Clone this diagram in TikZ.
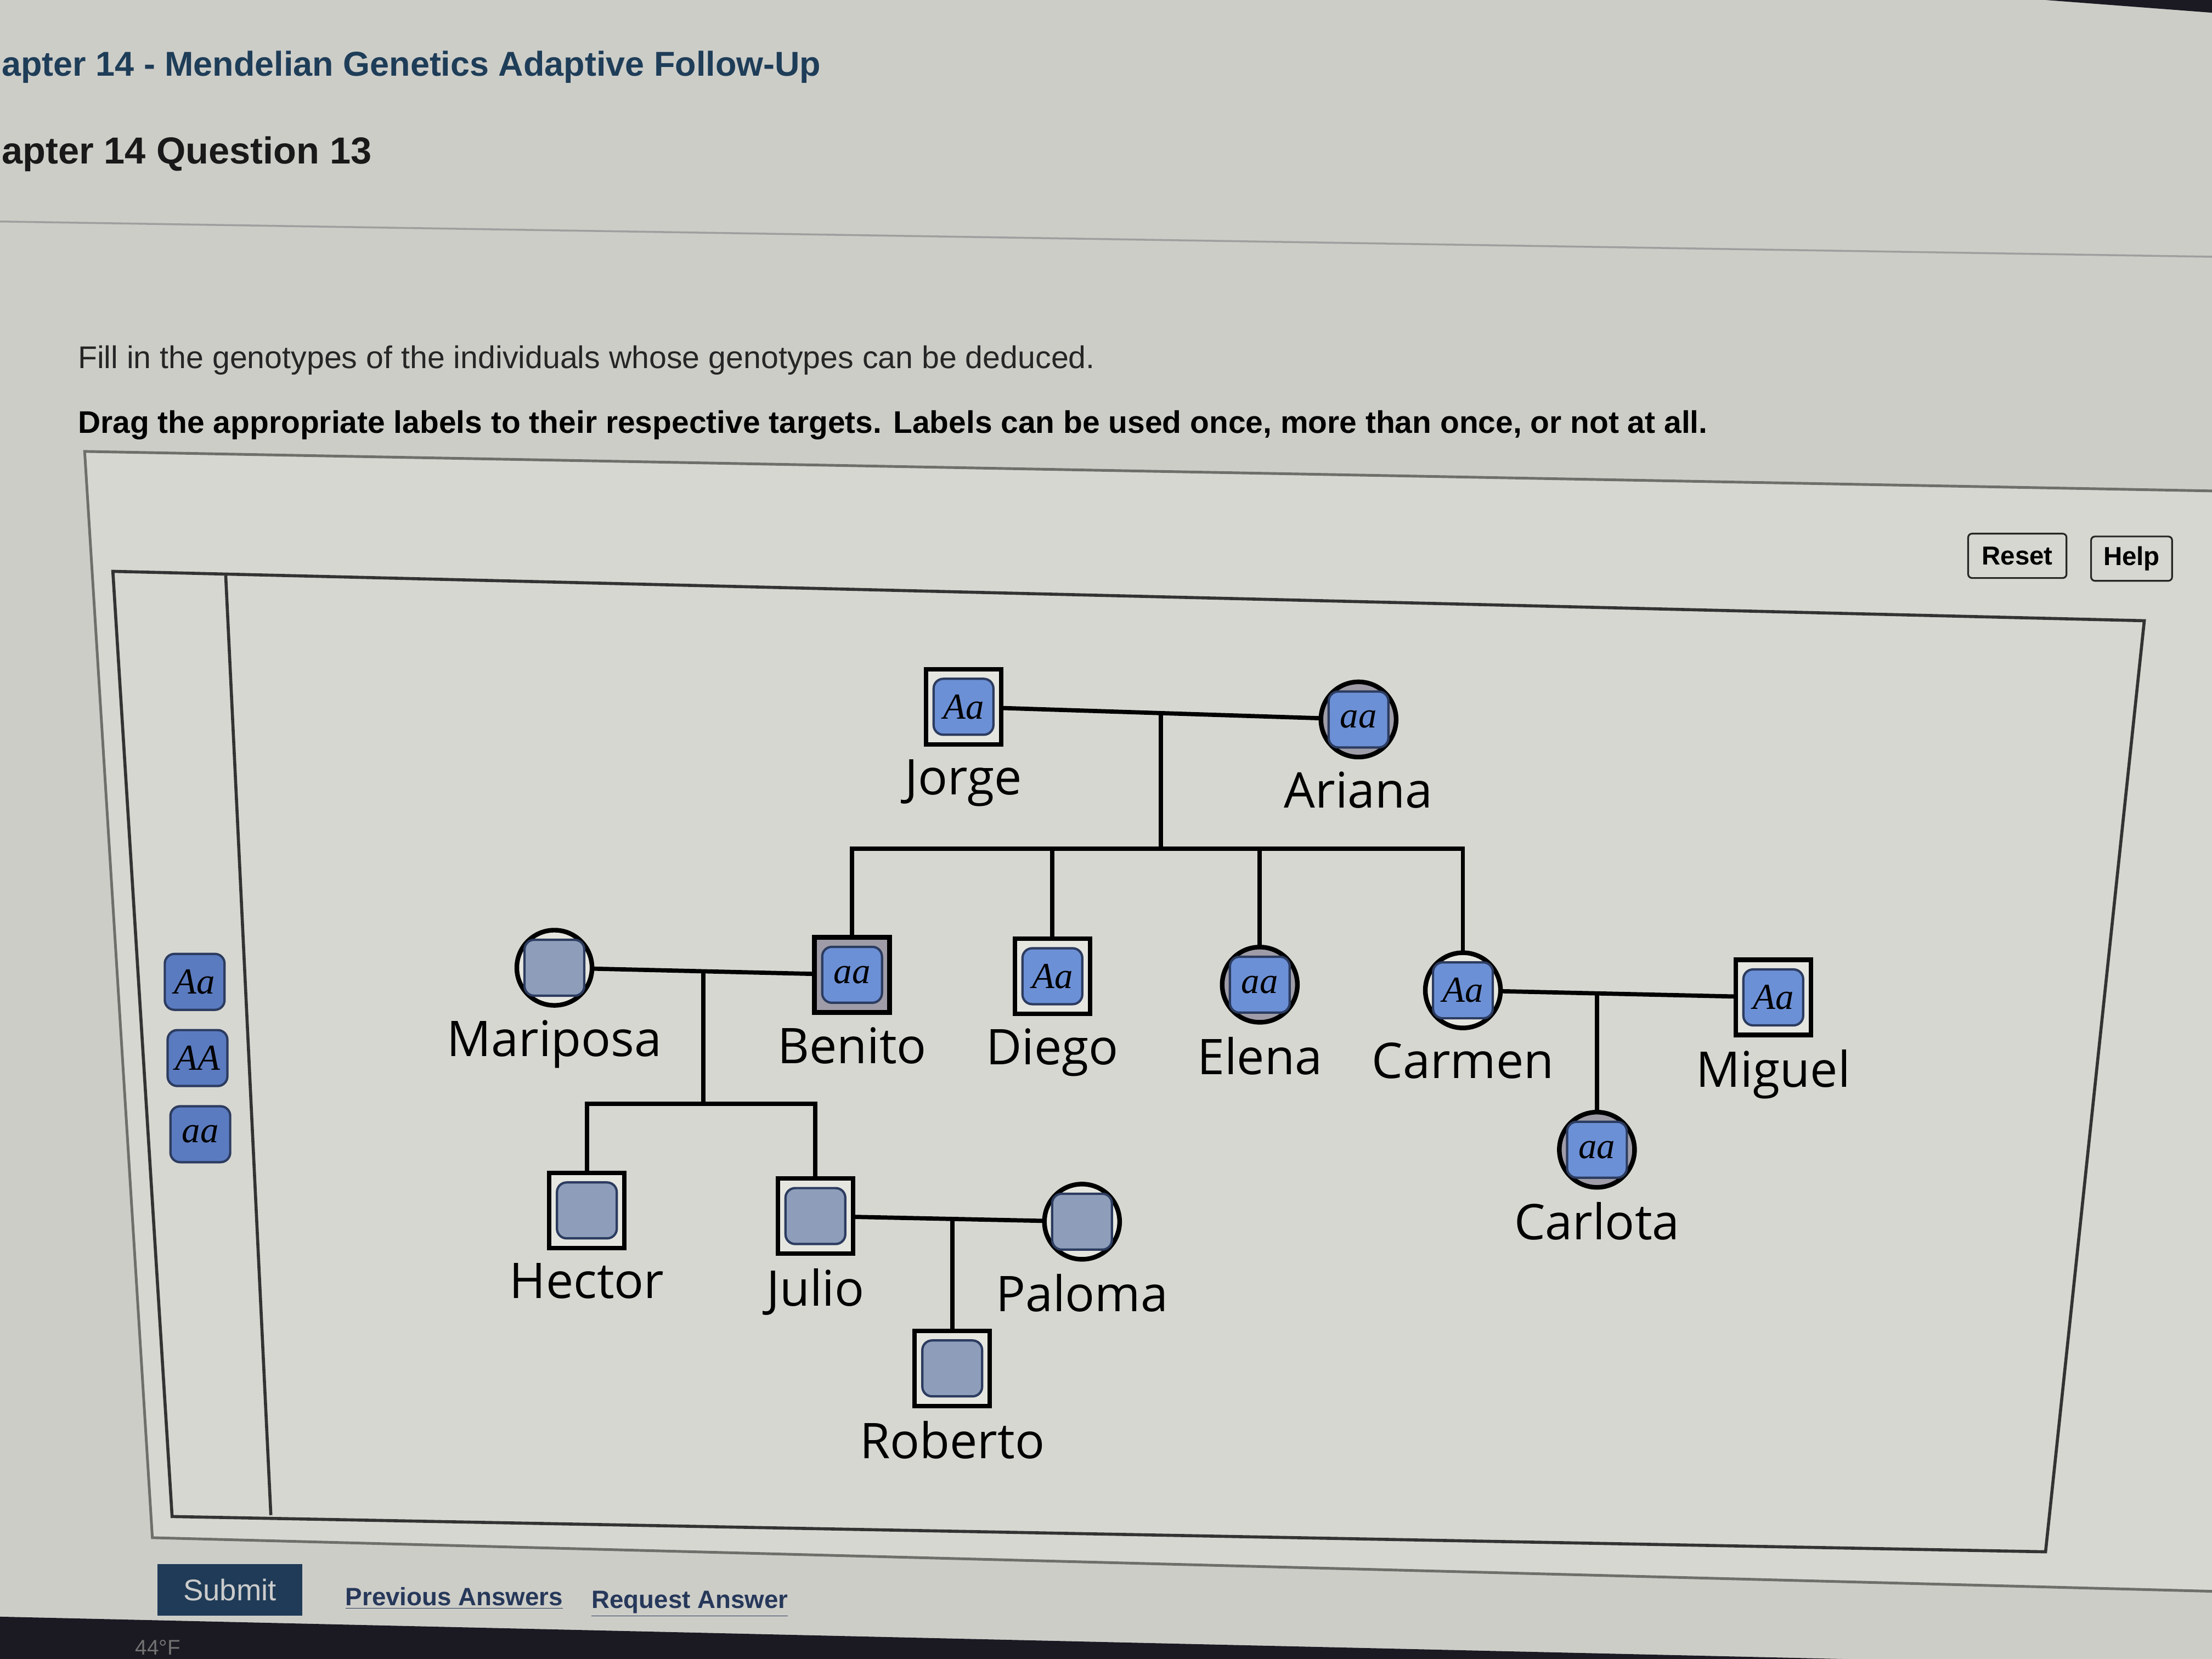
\documentclass[tikz,border=0pt]{standalone}
\usepackage{fontspec}
\setmainfont{Liberation Sans}
\newfontfamily\namefont{Open Sans}
\newfontfamily\genofont{Liberation Serif}
\usetikzlibrary{positioning, calc}
\definecolor{pagegray}{HTML}{CDCDC8}
\definecolor{panelgray}{HTML}{D7D7D1}
\definecolor{framegray}{HTML}{6E6E6A}
\definecolor{headblue}{HTML}{1E3D58}
\definecolor{tileblue}{HTML}{6C90D6}
\definecolor{tilegray}{HTML}{8E9DB9}
\definecolor{paltile}{HTML}{5B7BC0}
\definecolor{tileedge}{HTML}{2C3C60}
\definecolor{affected}{HTML}{9F9CA8}
\definecolor{healthy}{HTML}{E6E6E0}
\definecolor{submitblue}{HTML}{1F3B57}
\definecolor{linkblue}{HTML}{26385A}
\definecolor{taskbar}{HTML}{1B1A23}

\begin{document}
\begin{tikzpicture}[x=0.2571mm, y=-0.2571mm]
  \tikzset{male/.style={rectangle, draw=black, line width=2.4pt, fill=healthy,
                        minimum size=39pt, inner sep=0pt},
           female/.style={circle, draw=black, line width=2.4pt, fill=healthy,
                          minimum size=39pt, inner sep=0pt},
           sick/.style={fill=affected},
           gtile/.style={rectangle, rounded corners=5pt, draw=tileedge, line width=1.2pt,
                         fill=tileblue, minimum width=31pt, minimum height=29pt, inner sep=0pt,
                         font=\genofont\itshape\fontsize{19}{19}\selectfont},
           emptytile/.style={fill=tilegray},
           palette/.style={gtile, fill=paltile},
           pname/.style={font=\namefont\fontsize{25.5}{27}\selectfont},
           pline/.style={line width=2.2pt, line cap=rect},
           uibtn/.style={draw=black!85, rounded corners=2pt, line width=0.9pt, fill=panelgray,
                         minimum height=23pt, font=\bfseries\fontsize{13.5}{14}\selectfont},
           weblink/.style={text=linkblue, inner sep=1pt, font=\bfseries\fontsize{13}{14}\selectfont}}

  % page and panels
  \fill[pagegray] (0,0) rectangle (1568,1176);
  \useasboundingbox (0,0) rectangle (1568,1176);
  \fill[taskbar] (1450,0) -- (1568,0) -- (1568,9) -- cycle;
  \draw[gray!75, line width=1pt] (0,157) -- (1568,182);
  \fill[panelgray] (60,320) -- (1568,348) -- (1568,1128) -- (108,1090) -- cycle;
  \draw[framegray, line width=1.4pt] (1568,348) -- (60,320) -- (108,1090) -- (1568,1128);
  \draw[black!80, line width=1.6pt] (80,405) -- (1520,440) -- (1450,1100) -- (122,1075) -- cycle;
  \draw[black!80, line width=1.6pt] (160,408) -- (192,1074);
  \fill[taskbar] (0,1146) -- (1568,1182) -- (0,1182) -- cycle;

  % headings
  \node[anchor=base west, inner sep=0pt, text=headblue, font=\bfseries\fontsize{17.9}{18}\selectfont]
    (title) at (1,54) {apter 14 - Mendelian Genetics Adaptive Follow-Up};
  \node[anchor=base west, inner sep=0pt, text=black!90, font=\bfseries\fontsize{19.5}{20}\selectfont]
    (question) at (1,116) {apter 14 Question 13};
  \node[anchor=base west, inner sep=0pt, text=black!85, font=\fontsize{16.3}{17}\selectfont]
    (task) at (55,261) {Fill in the genotypes of the individuals whose genotypes can be deduced.};
  \node[anchor=base west, inner sep=0pt, font=\bfseries\fontsize{16.2}{17}\selectfont]
    (hint) at (55,307) {Drag the appropriate labels to their respective targets. Labels can be used once, more than once, or not at all.};

  \node[uibtn, minimum width=51pt] (reset) at (1430,394) {Reset};
  \node[uibtn, minimum width=42pt] (help) at (1511,396) {Help};

  % label palette
  \node[palette] (palAa) at (138,696) {Aa};
  \node[palette] (palAA) at (140,750) {AA};
  \node[palette] (palaa) at (142,804) {aa};

  % pedigree
  \node[male] (jorge) at (683,501) {};
  \node[female, sick] (ariana) at (963,510) {};
  \node[female] (mariposa) at (393,686) {};
  \node[male, sick] (benito) at (604,691) {};
  \node[male] (diego) at (746,692) {};
  \node[female, sick] (elena) at (893,698) {};
  \node[female] (carmen) at (1037,702) {};
  \node[male] (miguel) at (1257,707) {};
  \node[male] (hector) at (416,858) {};
  \node[male] (julio) at (578,862) {};
  \node[female] (paloma) at (767,866) {};
  \node[female, sick] (carlota) at (1132,815) {};
  \node[male] (roberto) at (675,970) {};

  \foreach \p/\g in {jorge/Aa, ariana/aa, benito/aa, diego/Aa, elena/aa, carmen/Aa, miguel/Aa, carlota/aa}
    \node[gtile] (\p-tile) at (\p) {\g};
  \foreach \p in {mariposa, hector, julio, paloma, roberto}
    \node[gtile, emptytile] (\p-tile) at (\p) {};

  \foreach \p/\n in {jorge/Jorge, ariana/Ariana, mariposa/Mariposa, benito/Benito, diego/Diego,
                     elena/Elena, carmen/Carmen, miguel/Miguel, hector/Hector, julio/Julio,
                     paloma/Paloma, carlota/Carlota, roberto/Roberto}
    \node[pname, below=3pt of \p] (\p-name) {\n};

  % couples and offspring
  \draw[pline] (jorge) -- (ariana);
  \coordinate (jaKnot) at ($(jorge.east)!0.5!(ariana.west)$);
  \draw[pline] (jaKnot) -- ++(0,96) coordinate (jaSib);
  \draw[pline] (benito.north) |- (jaSib) -| (carmen.north);
  \foreach \k in {diego, elena}
    \draw[pline] (\k.north) -- (\k.north |- jaSib);

  \draw[pline] (mariposa) -- (benito);
  \coordinate (mbKnot) at ($(mariposa.east)!0.5!(benito.west)$);
  \draw[pline] (mbKnot) -- ++(0,94) coordinate (mbSib);
  \draw[pline] (hector.north) |- (mbSib) -| (julio.north);

  \draw[pline] (julio) -- (paloma);
  \coordinate (jpKnot) at ($(julio.east)!0.5!(paloma.west)$);
  \draw[pline] (roberto.north) -- (roberto.north |- jpKnot);

  \draw[pline] (carmen) -- (miguel);
  \coordinate (cmKnot) at ($(carmen.east)!0.5!(miguel.west)$);
  \draw[pline] (carlota.north) -- (carlota.north |- cmKnot);

  % footer
  \node[fill=submitblue, text=black!20, minimum width=75pt, minimum height=27pt,
        font=\fontsize{15.5}{16}\selectfont] (submit) at (163,1127) {Submit};
  \node[weblink] (previous) at (322,1133) {\underline{Previous Answers}};
  \node[weblink] (request) at (489,1137) {\underline{Request Answer}};
  \node[text=black!55, font=\fontsize{11}{11}\selectfont] (weather) at (112,1168) {44°F};
\end{tikzpicture}
\end{document}
